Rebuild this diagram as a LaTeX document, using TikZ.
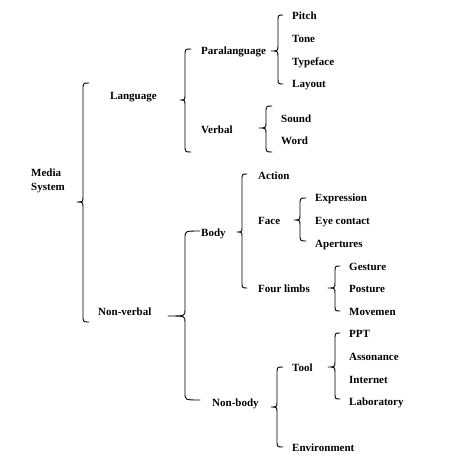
\documentclass[tikz,border=0pt]{standalone}
\usepackage{fontspec}
\setmainfont{Liberation Serif}[BoldFont={Liberation Serif Bold}]
\newcommand{\cbrace}[6]{%
  \draw[bracestyle] (#1,#4) .. controls (#2,#4) .. (#2,#4+7) -- (#2,#5-6)
    .. controls (#2,#5) .. (#3,#5) .. controls (#2,#5) .. (#2,#5+6)
    -- (#2,#6-7) .. controls (#2,#6) .. (#1,#6);}
\begin{document}
\begin{tikzpicture}[x=1pt,y=-1pt,
  lbl/.style={anchor=base west,inner sep=0pt,font=\fontsize{11}{13.8}\selectfont\bfseries},
  bracestyle/.style={line width=0.9pt,line cap=round,line join=round}]
\useasboundingbox (0,0) rectangle (474,461);
% texts
\node[lbl,align=left] (media) at (31,190) {Media\\System};
\node[lbl] (language) at (110,99) {Language};
\node[lbl] (nonverbal) at (98,315) {Non-verbal};
\node[lbl] (para) at (201,54) {Paralanguage};
\node[lbl] (verbal) at (201,133) {Verbal};
\node[lbl] (pitch) at (292,19) {Pitch};
\node[lbl] (tone) at (292,42) {Tone};
\node[lbl] (typeface) at (292,65) {Typeface};
\node[lbl] (layout) at (292,87) {Layout};
\node[lbl] (sound) at (281,122) {Sound};
\node[lbl] (word) at (281,144) {Word};
\node[lbl] (body) at (201,236) {Body};
\node[lbl] (nonbody) at (212,406) {Non-body};
\node[lbl] (action) at (258,179) {Action};
\node[lbl] (face) at (258,224) {Face};
\node[lbl] (limbs) at (258,292) {Four limbs};
\node[lbl] (expr) at (315,201) {Expression};
\node[lbl] (eye) at (315,224) {Eye contact};
\node[lbl] (apert) at (315,247) {Apertures};
\node[lbl] (gesture) at (349,270) {Gesture};
\node[lbl] (posture) at (349,292) {Posture};
\node[lbl] (movemen) at (349,315) {Movemen};
\node[lbl] (ppt) at (349,337) {PPT};
\node[lbl] (asson) at (349,360) {Assonance};
\node[lbl] (internet) at (349,383) {Internet};
\node[lbl] (lab) at (349,405) {Laboratory};
\node[lbl] (tool) at (292,371) {Tool};
\node[lbl] (env) at (292,451) {Environment};
% braces
\cbrace{89}{83}{77}{83}{202}{322}
\cbrace{191}{185}{180}{49}{100}{152}
\cbrace{283}{278}{271}{15}{51}{84}
\cbrace{272}{266}{259}{106}{128}{152}
\cbrace{200}{185}{168}{231}{316}{400}
\cbrace{247}{242}{237}{174}{232}{288}
\cbrace{306}{300}{294}{198}{220}{241}
\cbrace{340}{335}{328}{266}{288}{311}
\cbrace{340}{335}{328}{333}{367}{399}
\cbrace{283}{277}{271}{367}{407}{447}
\end{tikzpicture}
\end{document}
